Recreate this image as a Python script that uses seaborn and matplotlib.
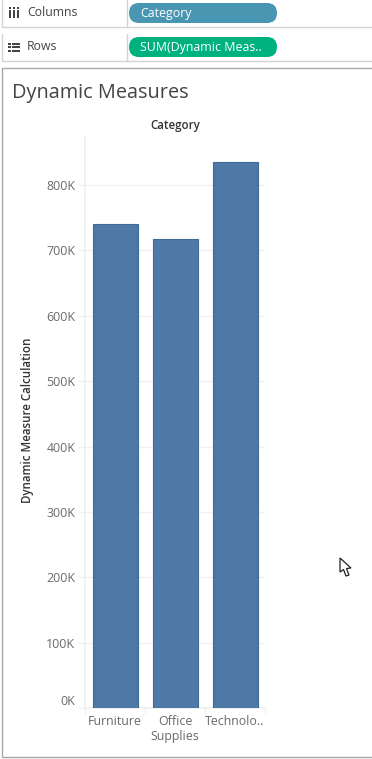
import seaborn as sns
import matplotlib.pyplot as plt
import pandas as pd
from matplotlib.patches import FancyBboxPatch, Polygon, Rectangle

categories = ["Furniture", "Office\nSupplies", "Technolo.."]
values = [741000, 718000, 836000]
y_ticks = [0, 100000, 200000, 300000, 400000, 500000, 600000, 700000, 800000]
y_labels = ["0K", "100K", "200K", "300K", "400K", "500K", "600K", "700K", "800K"]

W, H = 372, 759
GRID = "#f0f0f0"
TEXT = "#6a6a6a"

df = pd.DataFrame({"Category": categories, "Value": values})

sns.set_theme(style="white")
plt.rcParams["font.family"] = ["Open Sans", "DejaVu Sans"]

fig = plt.figure(figsize=(W / 100, H / 100), dpi=100, facecolor="white")

# chrome goes on an overlay in pixel coords
bg = fig.add_axes([0, 0, 1, 1], zorder=0)
bg.set_xlim(0, W)
bg.set_ylim(H, 0)
bg.axis("off")

for top, bottom in [(0, 26.5), (33.5, 60.5)]:
    bg.plot([1.5, W], [bottom, bottom], color="#d4d4d4", lw=1)
    bg.plot([126.5, 126.5], [top, bottom], color="#d4d4d4", lw=1)
    bg.plot([1.5, 1.5], [top, bottom], color="#d4d4d4", lw=1)

for y, colour, label in [(3, "#4996b2", "Category"), (37, "#00b180", "SUM(Dynamic Meas..")]:
    bg.add_patch(FancyBboxPatch((129, y), 148, 20, boxstyle="round,pad=0,rounding_size=10",
                                fc=colour, ec="none"))
    bg.text(140, y + 10, label, color="white", fontsize=8.9, va="center", ha="left")

bg.text(27, 13, "Columns", color="#444444", fontsize=8.8, va="center")
bg.text(27, 47, "Rows", color="#444444", fontsize=8.8, va="center")

# columns icon
for x in (9, 13, 17):
    bg.add_patch(Rectangle((x, 10), 2, 8, fc="#444444", ec="none"))
    bg.add_patch(Rectangle((x, 7), 2, 2, fc="#444444", ec="none"))
# rows icon
for y in (42.5, 46, 49.5):
    bg.add_patch(Rectangle((8, y), 2.5, 2, fc="#444444", ec="none"))
    bg.add_patch(Rectangle((12, y), 8, 2, fc="#444444", ec="none"))

bg.add_patch(Rectangle((1.5, 67.5), W, 689.5, fc="none", ec="#a8a8a8", lw=1))
bg.text(12, 93, "Dynamic Measures", color="#444444", fontsize=14.3, va="center", ha="left")
bg.text(175.5, 126, "Category", color="#333333", fontsize=8.3, va="center", ha="center", fontweight="semibold")
bg.text(28, 420, "Dynamic Measure Calculation", color="#333333", fontsize=8.3, rotation=90,
        va="center", ha="center", fontweight="semibold")

ax = fig.add_axes([85 / W, 1 - 708 / H, 180 / W, (708 - 137) / H], zorder=1)
ax.patch.set_alpha(0)
sns.barplot(data=df, x="Category", y="Value", color="#4e79a7", saturation=1, width=0.75,
            edgecolor="#3f6a98", linewidth=0.8, ax=ax, zorder=3)

ax.set_xlim(-0.5, 2.5)
ax.set_ylim(0, 873500)
ax.set_xlabel("")
ax.set_ylabel("")
ax.set_yticks(y_ticks)
ax.set_yticklabels(y_labels)
ax.set_xticks([-0.5, 0.5, 1.5, 2.5], minor=True)
ax.tick_params(axis="x", which="major", length=0, pad=5, labelsize=8.9, labelcolor=TEXT)
ax.tick_params(axis="x", which="minor", bottom=True, length=4, width=1, color=GRID)
ax.tick_params(axis="y", left=True, length=5, width=1, color=GRID, pad=2, labelsize=8.9, labelcolor=TEXT)
ax.get_yticklabels()[0].set_va("bottom")

ax.grid(axis="y", color=GRID, lw=1, zorder=0)
ax.set_axisbelow(True)
sns.despine(ax=ax, top=True, right=True)
ax.spines["left"].set_color(GRID)
ax.spines["bottom"].set_color(GRID)

# mouse pointer from the screenshot
bg.add_patch(Polygon([(340, 558), (340, 572), (343.5, 569.5), (346, 576), (349, 575), (346.5, 568.5), (351, 568)],
                     closed=True, fc="white", ec="#222222", lw=0.9))

fig.savefig("out.png", dpi=100)
